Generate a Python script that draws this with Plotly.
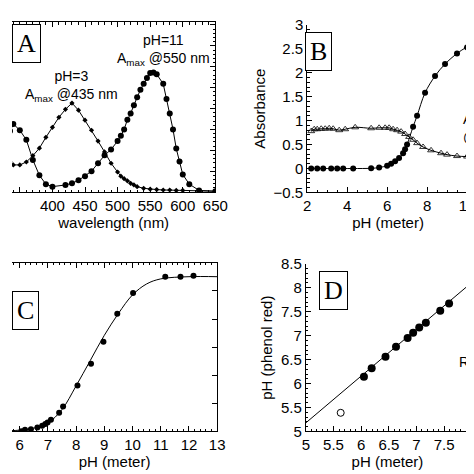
import plotly.graph_objects as go

# Panel A: spectra
wl_a = [335, 340, 350, 360, 370, 380, 390, 400, 420, 430, 440, 450, 460, 470, 480, 490, 500, 505, 510, 515,
        520, 525, 530, 535, 540, 545, 550, 555, 560, 570, 575, 580, 585, 590, 595, 600, 610, 625, 650]
abs_ph11 = [1.46, 1.63, 1.48, 1.25, 0.77, 0.40, 0.19, 0.13, 0.17, 0.21, 0.28, 0.38, 0.50, 0.69, 0.88, 1.02, 1.22,
            1.35, 1.50, 1.73, 1.88, 2.08, 2.27, 2.45, 2.59, 2.73, 2.85, 2.86, 2.82, 2.59, 2.23, 1.88, 1.50, 1.04,
            0.73, 0.42, 0.19, 0.04, 0.02]
wl_b = [335, 340, 350, 360, 370, 380, 390, 400, 410, 420, 430, 440, 450, 460, 470, 480, 490, 500, 505, 510,
        515, 520, 525, 530, 540, 550, 560, 570, 580, 590, 600, 650]
abs_ph3 = [0.72, 0.65, 0.65, 0.72, 0.87, 1.05, 1.31, 1.55, 1.79, 1.98, 2.13, 1.96, 1.72, 1.48, 1.22, 0.96, 0.69,
           0.48, 0.38, 0.32, 0.27, 0.21, 0.17, 0.13, 0.09, 0.07, 0.06, 0.05, 0.05, 0.04, 0.04, 0.02]

# Panel B: titration
ph_b1 = [2.2, 2.5, 2.8, 3.2, 3.5, 3.8, 4.3, 5.2, 5.6, 6.0, 6.2, 6.4, 6.6, 6.8, 6.9, 7.0, 7.3, 7.5, 7.9, 8.4,
         8.9, 9.5, 10.0, 10.8, 11.5]
a550 = [0, 0, 0, 0, 0, 0, 0, 0.005, 0.02, 0.06, 0.1, 0.15, 0.22, 0.32, 0.4, 0.5, 0.87, 1.1, 1.58, 1.93, 2.18,
        2.4, 2.53, 2.6, 2.63]
ph_b2 = [2.2, 2.35, 2.5, 2.7, 2.9, 3.1, 3.3, 3.6, 3.9, 4.4, 5.2, 5.6, 5.9, 6.1, 6.3, 6.5, 6.7, 6.9, 7.1, 7.3,
         7.5, 7.8, 8.2, 8.7, 9.0, 9.5, 10.0, 10.8]
a435 = [0.78, 0.82, 0.82, 0.83, 0.83, 0.84, 0.83, 0.80, 0.82, 0.86, 0.84, 0.85, 0.85, 0.85, 0.82, 0.80, 0.77,
        0.72, 0.66, 0.60, 0.53, 0.45, 0.38, 0.32, 0.29, 0.26, 0.25, 0.25]

# Panel C: ratio vs pH
ph_c = [6.06, 6.19, 6.4, 6.63, 6.8, 6.91, 6.99, 7.11, 7.4, 7.54, 8.05, 8.53, 8.97, 9.46, 10.02, 11.16, 11.7, 12.16]
ratio_c = [0.002, 0.01, 0.013, 0.023, 0.034, 0.044, 0.054, 0.069, 0.111, 0.149, 0.273, 0.402, 0.532, 0.698,
           0.822, 0.918, 0.918, 0.923]
fit_ph_c = [5.7, 6.0, 6.5, 7.0, 7.5, 8.0, 8.5, 9.0, 9.5, 10.0, 10.5, 11.0, 12.0, 13.0]
fit_c = [0.005, 0.008, 0.02, 0.05, 0.13, 0.27, 0.42, 0.57, 0.70, 0.81, 0.875, 0.905, 0.918, 0.918]

# Panel D: calibration
ph_meter = [6.05, 6.19, 6.44, 6.63, 6.84, 6.94, 7.05, 7.17, 7.43, 7.59]
ph_red = [6.14, 6.32, 6.56, 6.77, 6.95, 7.06, 7.17, 7.27, 7.52, 7.67]
out_x, out_y = [5.63], [5.39]
line_x, line_y = [5.0, 8.0], [5.18, 8.11]

fig = go.Figure()
blk = "black"
fig.add_trace(go.Scatter(x=wl_a, y=abs_ph11, mode="lines+markers", line=dict(color=blk, width=1),
                         marker=dict(size=6, color=blk), xaxis="x", yaxis="y"))
fig.add_trace(go.Scatter(x=wl_b, y=abs_ph3, mode="lines+markers", line=dict(color=blk, width=1),
                         marker=dict(size=4, color=blk, symbol="diamond"), xaxis="x", yaxis="y"))
fig.add_trace(go.Scatter(x=ph_b1, y=a550, mode="lines+markers", line=dict(color=blk, width=1, shape="spline"),
                         marker=dict(size=6, color=blk), xaxis="x2", yaxis="y2"))
fig.add_trace(go.Scatter(x=ph_b2, y=a435, mode="lines+markers", line=dict(color=blk, width=1, shape="spline"),
                         marker=dict(size=6, color=blk, symbol="triangle-up-open", line=dict(color=blk, width=0.8)),
                         xaxis="x2", yaxis="y2"))
fig.add_trace(go.Scatter(x=fit_ph_c, y=fit_c, mode="lines", line=dict(color=blk, width=1, shape="spline"),
                         xaxis="x3", yaxis="y3"))
fig.add_trace(go.Scatter(x=ph_c, y=ratio_c, mode="markers", marker=dict(size=6, color=blk), xaxis="x3", yaxis="y3"))
fig.add_trace(go.Scatter(x=line_x, y=line_y, mode="lines", line=dict(color=blk, width=1), xaxis="x4", yaxis="y4"))
fig.add_trace(go.Scatter(x=ph_meter, y=ph_red, mode="markers", marker=dict(size=8, color=blk), xaxis="x4", yaxis="y4"))
fig.add_trace(go.Scatter(x=out_x, y=out_y, mode="markers", marker=dict(size=7, color="white", line=dict(color=blk, width=1)),
                         xaxis="x4", yaxis="y4"))

tf = dict(family="Liberation Sans, Arial", size=15, color=blk)
common = dict(showline=True, linecolor=blk, linewidth=1, ticks="inside", ticklen=5, tickcolor=blk,
              showgrid=False, zeroline=False, tickfont=tf,
              minor=dict(ticks="inside", ticklen=2.5, tickcolor=blk))

fig.update_layout(
    width=474, height=474, margin=dict(l=0, r=0, t=0, b=0), showlegend=False,
    plot_bgcolor="white", paper_bgcolor="white",
    xaxis=dict(common, domain=[0, 0.445], range=[338, 650], dtick=50, mirror="allticks", anchor="y",
               title=dict(text="wavelength (nm)", font=tf, standoff=4)),
    yaxis=dict(common, domain=[0.616, 0.989], range=[-0.01, 4.07], dtick=0.5, side="right",
               showticklabels=False, anchor="x"),
    xaxis2=dict(common, domain=[0.646, 1], range=[2, 10.1], dtick=2, anchor="y2",
                title=dict(text="pH (meter)", font=tf, standoff=4)),
    yaxis2=dict(common, domain=[0.616, 0.983], range=[-0.5, 3], dtick=0.5, anchor="x2",
                title=dict(text="Absorbance", font=tf, standoff=4)),
    xaxis3=dict(common, domain=[0, 0.449], range=[5.73, 13], dtick=1, mirror="allticks", anchor="y3",
                title=dict(text="pH (meter)", font=tf, standoff=4)),
    yaxis3=dict(common, domain=[0.093, 0.462], range=[0, 1], dtick=1/6, side="right",
                showticklabels=False, anchor="x3", minor=dict(ticks="")),
    xaxis4=dict(common, domain=[0.643, 1], range=[5, 7.95], dtick=0.5, anchor="y4",
                title=dict(text="pH (meter)", font=tf, standoff=4)),
    yaxis4=dict(common, domain=[0.093, 0.46], range=[5, 8.5], dtick=0.5, anchor="x4",
                title=dict(text="pH (phenol red)", font=tf, standoff=4)),
)

lf = dict(family="Liberation Serif, Times New Roman", size=26, color=blk)
boxes = [("A", "x", "y", 338, 3.55), ("B", "x2", "y2", 2.55, 2.45), ("C", "x3", "y3", 5.73, 0.72), ("D", "x4", "y4", 5.5, 7.95)]
for t, xr, yr, xv, yv in boxes:
    fig.add_annotation(text=t, xref=xr, yref=yr, x=xv, y=yv, xanchor="left" if t in "AC" else "center",
                       showarrow=False, font=lf, bordercolor=blk, borderwidth=1, borderpad=4, bgcolor="white")

af = dict(family="Liberation Sans, Arial", size=14, color=blk)
notes = [("pH=11<br>A<sub>max</sub> @550 nm", "x", "y", 570, 3.4),
         ("pH=3<br>A<sub>max</sub> @435 nm", "x", "y", 430, 2.55),
         ("A<sub>max</sub><br>@550 nm", "x2", "y2", 10.0, 2.05),
         ("Abs<br>@435 nm", "x2", "y2", 9.7, 0.85),
         ("R=0.999", "x4", "y4", 7.73, 6.45)]
for t, xr, yr, xv, yv in notes:
    fig.add_annotation(text=t, xref=xr, yref=yr, x=xv, y=yv, showarrow=False, font=af,
                       xanchor="left" if xr != "x" else "center", align="left" if xr != "x" else "center")

fig.write_html("out.html")
